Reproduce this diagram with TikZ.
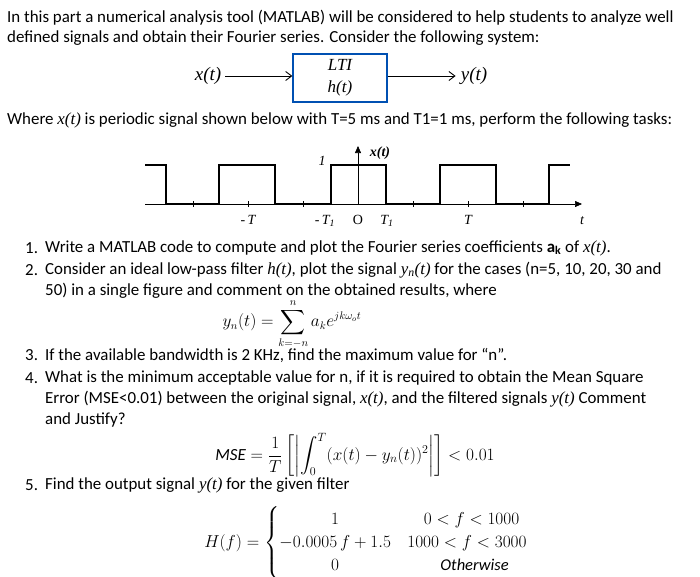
\documentclass[tikz,border=0pt]{standalone}
\usepackage{amsmath}
\usepackage{fontspec}
\setmainfont{Carlito}
\newfontfamily\tnr{Liberation Serif}
\usetikzlibrary{arrows.meta}
\newcommand{\ti}[1]{{\tnr\itshape #1}}
\begin{document}
\begin{tikzpicture}[x=1pt,y=-1pt,
  txt/.style={anchor=west,inner sep=0pt,font=\fontsize{16.9}{19}\selectfont},
  sig/.style={line width=1.6pt},
  ax/.style={line width=0.6pt,-{Triangle[length=7pt,width=6pt]}},
  lbl/.style={inner sep=0pt,font=\tnr\itshape\fontsize{14}{16}\selectfont}]
\useasboundingbox (0,0) rectangle (700,576);
\fill[white] (0,0) rectangle (700,576);
\node[txt] (l1) at (7,18) {In this part a numerical analysis tool (MATLAB) will be considered to help students to analyze well};
\node[txt] (l2) at (7,38) {defined signals and obtain their Fourier series. Consider the following system:};
% system
\node[draw=blue!55!cyan!70!black,line width=1.3pt,minimum width=94pt,minimum height=48pt,inner sep=0pt,align=center,
  font=\tnr\itshape\fontsize{17}{22}\selectfont] (lti) at (340,78) {LTI\\h(t)};
\node[inner sep=0pt,font=\tnr\itshape\fontsize{19}{22}\selectfont] (xin) at (208,76) {x(t)};
\node[inner sep=0pt,font=\tnr\itshape\fontsize{19}{22}\selectfont] (yout) at (474,76) {y(t)};
\draw[line width=0.9pt,-{Straight Barb[length=6pt,width=9pt]}] (xin.east)+(4,0) -- (lti.west|-xin.east);
\draw[line width=0.9pt,-{Straight Barb[length=6pt,width=9pt]}] (lti.east|-yout.west) -- ([xshift=-5pt]yout.west);
\node[txt] (l3) at (7,120) {Where \ti{x(t)} is periodic signal shown below with T=5 ms and T1=1 ms, perform the following tasks:};
% signal
\draw[ax] (145,204) -- (582,204);
\draw[ax] (358,204) -- (358,146);
\foreach \xx in {193,248,303,413,468,523} \draw[line width=0.6pt] (\xx,201) -- (\xx,207);
\draw[sig] (145,165) -- (166,165) -- (166,204) -- (219,204) -- (219,165) -- (275,165) -- (275,204) -- (331,204) -- (331,165)
  -- (386,165) -- (386,204) -- (440,204) -- (440,165) -- (496,165) -- (496,204) -- (549,204) -- (549,165) -- (570,165);
\node[lbl,font=\tnr\bfseries\itshape\fontsize{14}{16}\selectfont] (xt) at (380,153) {x(t)};
\node[lbl] (one) at (322,161) {1};
\node[lbl] (mT) at (248,220) {-\,T};
\node[lbl] (mT1) at (325,221) {-\,T\textsubscript{\itshape 1}};
\node[lbl,font=\tnr\fontsize{14}{16}\selectfont] (O) at (358,220) {O};
\node[lbl] (T1) at (387,221) {T\textsubscript{\itshape 1}};
\node[lbl] (T) at (468,220) {T};
\node[lbl] (tt) at (582,221) {t};
% items
\node[txt] (n1) at (25,248) {1.};
\node[txt] (i1) at (45,248) {Write a MATLAB code to compute and plot the Fourier series coefficients \textbf{a}\textsubscript{\bfseries k} of \ti{x(t)}.};
\node[txt] (n2) at (25,270) {2.};
\node[txt] (i2) at (45,270) {Consider an ideal low-pass filter \ti{h(t)}, plot the signal \ti{y\textsubscript{n}(t)} for the cases (n=5, 10, 20, 30 and};
\node[txt] (i2b) at (45,291) {50) in a single figure and comment on the obtained results, where};
\node[inner sep=0pt,font=\fontsize{16}{18}\selectfont] (sum) at (292,324) {$\displaystyle y_n(t)=\sum_{k=-n}^{n} a_k e^{jk\omega_o t}$};
\node[txt] (n3) at (25,355) {3.};
\node[txt] (i3) at (45,355) {If the available bandwidth is 2 KHz, find the maximum value for “n”.};
\node[txt] (n4) at (25,378) {4.};
\node[txt] (i4) at (45,378) {What is the minimum acceptable value for n, if it is required to obtain the Mean Square};
\node[txt] (i4b) at (45,399) {Error (MSE<0.01) between the original signal, \ti{x(t)}, and the filtered signals \ti{y(t)} Comment};
\node[txt] (i4c) at (45,420) {and Justify?};
\node[inner sep=0pt,font=\fontsize{17}{19}\selectfont] (mse) at (355,455) {$\displaystyle \mathit{MSE}=\frac{1}{T}\left[\left|\int_0^T (x(t)-y_n(t))^2\right|\right]<0.01$};
\node[txt] (n5) at (25,485) {5.};
\node[txt] (i5) at (45,485) {Find the output signal \ti{y(t)} for the given filter};
\node[inner sep=0pt,font=\fontsize{16.5}{19}\selectfont] (hf) at (366,543) {$H(f)=\begin{cases}\hfill 1\hfill & \quad 0<f<1000\\ -0.0005\,f+1.5 & 1000<f<3000\\ \hfill 0\hfill & \qquad \mathit{Otherwise}\end{cases}$};
\end{tikzpicture}
\end{document}
